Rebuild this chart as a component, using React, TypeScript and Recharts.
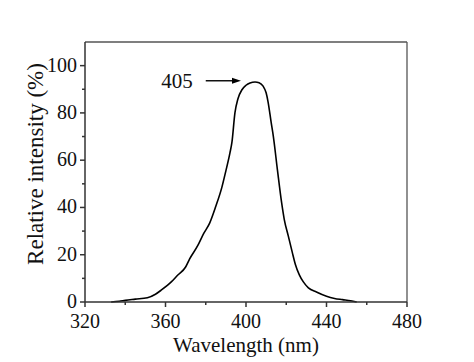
import { LineChart, Line, XAxis, YAxis, ReferenceLine } from 'recharts'

// emission spectrum
const wavelength = [
  333, 337, 340, 345, 351, 355, 358, 363, 366, 370, 372, 376, 379, 382, 385, 388, 390, 392,
  393, 394.5, 396, 398, 400, 402, 404.5, 406.5, 408.5, 410, 411, 412.5, 413.6, 415.6, 417.7,
  419, 421, 423, 424.5, 426.5, 428.5, 431, 435, 440, 444, 448, 452, 455,
]
const intensity = [
  0, 0.3, 0.7, 1.2, 1.8, 3.3, 5.1, 8.6, 11.3, 14.8, 18.2, 23.8, 29, 33.5, 40.5, 48.5, 55.5, 63,
  67.5, 80, 86, 89.8, 91.7, 92.7, 93.1, 92.8, 91.3, 88.5, 84.5, 76, 70, 56, 42,
  35, 28, 21, 16, 11.5, 8.5, 6, 4.2, 2.4, 1.5, 1, 0.5, 0,
]

const xTicks = [320, 340, 360, 380, 400, 420, 440, 460, 480]
const xLabels = [320, 360, 400, 440, 480]
const yTicks = [0, 10, 20, 30, 40, 50, 60, 70, 80, 90, 100]
const yLabels = [0, 20, 40, 60, 80, 100]

const peakLabel = '405'
const arrowFrom = 380
const arrowTo = 397.5
const arrowLevel = 93.6

const data = wavelength.map((w, i) => ({ w, v: intensity[i] }))

const FONT = '"Liberation Serif", "Times New Roman", serif'
const AXIS = '#333'

function XTick({ x, y, payload }: any) {
  const major = xLabels.includes(payload.value)
  return (
    <g>
      <line x1={x} x2={x} y1={y} y2={y + (major ? 5 : 3)} stroke={AXIS} strokeWidth={1.5} />
      {major && (
        <text x={x} y={y + 26} textAnchor="middle" fontSize={20} fontFamily={FONT} fill="#111">
          {payload.value}
        </text>
      )}
    </g>
  )
}

function YTick({ x, y, payload }: any) {
  const major = yLabels.includes(payload.value)
  return (
    <g>
      <line x1={x - (major ? 5 : 3)} x2={x} y1={y} y2={y} stroke={AXIS} strokeWidth={1.5} />
      {major && (
        <text x={x - 8} y={y + 6} textAnchor="end" fontSize={20} fontFamily={FONT} fill="#111">
          {payload.value}
        </text>
      )}
    </g>
  )
}

function YTitle({ viewBox }: any) {
  const cy = viewBox.y + viewBox.height / 2 - 8
  return (
    <text
      x={43}
      y={cy}
      transform={`rotate(-90, 43, ${cy})`}
      textAnchor="middle"
      fontSize={23}
      fontFamily={FONT}
      fill="#111"
    >
      Relative intensity (%)
    </text>
  )
}

function Arrow({ x1, y1, x2 }: any) {
  return (
    <g>
      <line x1={x1} x2={x2 - 6} y1={y1} y2={y1} stroke="#000" strokeWidth={1.4} />
      <polygon points={`${x2},${y1} ${x2 - 9},${y1 - 3} ${x2 - 9},${y1 + 3}`} fill="#000" />
      <text x={x1 - 13} y={y1 + 7} textAnchor="end" fontSize={21} fontFamily={FONT} fill="#111">
        {peakLabel}
      </text>
    </g>
  )
}

export default function App() {
  return (
    <div style={{ position: 'absolute', left: 0, top: 0, background: '#fff' }}>
      <LineChart width={474} height={362} data={data} margin={{ top: 42, right: 67, bottom: 0, left: 0 }}>
        <XAxis
          dataKey="w"
          type="number"
          domain={[320, 480]}
          ticks={xTicks}
          height={60}
          tickSize={0}
          tickMargin={0}
          tick={<XTick />}
          stroke={AXIS}
          strokeWidth={1.5}
          label={{
            value: 'Wavelength (nm)',
            position: 'insideBottom',
            offset: 10,
            style: { fontSize: 21, fontFamily: FONT, fill: '#111' },
          }}
        />
        <YAxis
          type="number"
          domain={[0, 110]}
          ticks={yTicks}
          width={85}
          tickSize={0}
          tickMargin={0}
          tick={<YTick />}
          stroke={AXIS}
          strokeWidth={1.5}
          label={{ content: <YTitle /> }}
        />
        <ReferenceLine y={110} stroke="#555" strokeWidth={1.3} />
        <ReferenceLine x={480} stroke="#555" strokeWidth={1.3} />
        <ReferenceLine
          segment={[
            { x: arrowFrom, y: arrowLevel },
            { x: arrowTo, y: arrowLevel },
          ]}
          shape={(p: any) => <Arrow {...p} />}
        />
        <Line
          type="monotone"
          dataKey="v"
          stroke="#000"
          strokeWidth={1.6}
          dot={false}
          isAnimationActive={false}
        />
      </LineChart>
    </div>
  )
}
